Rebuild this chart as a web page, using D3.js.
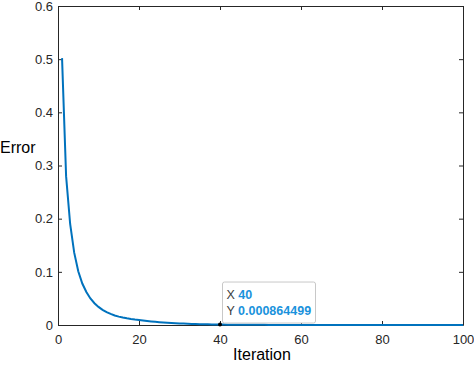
<!DOCTYPE html>
<html>
<head>
<meta charset="utf-8">
<script src="https://cdn.jsdelivr.net/npm/d3@7"></script>
<style>
  body { margin: 0; background: #fff; }
  text { font-family: "Liberation Sans", Arial, Helvetica, sans-serif; }
</style>
</head>
<body>
<svg id="chart"></svg>
<script>
// error per iteration (iterations 1..100)
const iterations = d3.range(1, 101);
const errors = [
  0.502, 0.28, 0.19, 0.136, 0.101, 0.078, 0.062, 0.050, 0.041, 0.034,
  0.0285, 0.0242, 0.0208, 0.0180, 0.0158, 0.0140, 0.0125, 0.0113, 0.0103, 0.0095,
  0.0085, 0.0076, 0.0068, 0.0060, 0.0053, 0.0047, 0.0042, 0.0037, 0.0033, 0.0029,
  0.0026, 0.0023, 0.0020, 0.0018, 0.0016, 0.0014, 0.00125, 0.0011, 0.00097, 0.000864499,
  0.00077, 0.00068, 0.00061, 0.00054, 0.00048, 0.00043, 0.00038, 0.00034, 0.0003, 0.00027,
  0.00024, 0.00021, 0.00019, 0.00017, 0.00015, 0.00013, 0.00012, 0.00011, 0.000095, 0.000085,
  0.000075, 0.000067, 0.00006, 0.000053, 0.000047, 0.000042, 0.000037, 0.000033, 0.000029, 0.000026,
  0.000023, 0.00002, 0.000018, 0.000016, 0.000014, 0.000013, 0.000011, 0.00001, 0.000009, 0.000008,
  0.000007, 0.0000063, 0.0000056, 0.000005, 0.0000044, 0.0000039, 0.0000035, 0.0000031, 0.0000027, 0.0000024,
  0.0000021, 0.0000019, 0.0000017, 0.0000015, 0.0000013, 0.0000012, 0.0000011, 0.000001, 0.0000009, 0.0000008
];

const xTicks = [0, 20, 40, 60, 80, 100];
const xTickLabels = ['0', '20', '40', '60', '80', '100'];
const yTicks = [0, 0.1, 0.2, 0.3, 0.4, 0.5, 0.6];
const yTickLabels = ['0', '0.1', '0.2', '0.3', '0.4', '0.5', '0.6'];

const tipIndex = 39;   // data tip on iteration 40
const tipXLabel = '40';
const tipYLabel = '0.000864499';

const geom = {
  width: 474,
  height: 366,
  margins: { left: 58, top: 6, right: 11, bottom: 41 }
};

const svg = d3.select('#chart')
  .attr('width', geom.width)
  .attr('height', geom.height);

const x = d3.scaleLinear()
  .domain([0, 100])
  .range([geom.margins.left, geom.width - geom.margins.right]);
const y = d3.scaleLinear()
  .domain([0, 0.6])
  .range([geom.height - geom.margins.bottom, geom.margins.top]);

const axisColor = '#262626';

function style(g) {
  g.select('.domain').attr('stroke', axisColor);
  g.selectAll('.tick line').attr('stroke', axisColor);
  g.selectAll('.tick text').attr('fill', axisColor).attr('font-size', 13);
}

// bottom
svg.append('g')
  .attr('transform', 'translate(0,' + y(0) + ')')
  .call(d3.axisBottom(x).tickValues(xTicks).tickFormat((d, i) => xTickLabels[i])
    .tickSizeInner(-4).tickSizeOuter(0).tickPadding(10))
  .call(style);

// top
svg.append('g')
  .attr('transform', 'translate(0,' + y(0.6) + ')')
  .call(d3.axisTop(x).tickValues(xTicks).tickFormat('')
    .tickSizeInner(-4).tickSizeOuter(0))
  .call(style);

// left
svg.append('g')
  .attr('transform', 'translate(' + x(0) + ',0)')
  .call(d3.axisLeft(y).tickValues(yTicks).tickFormat((d, i) => yTickLabels[i])
    .tickSizeInner(-4).tickSizeOuter(0).tickPadding(5))
  .call(style);

// right
svg.append('g')
  .attr('transform', 'translate(' + x(100) + ',0)')
  .call(d3.axisRight(y).tickValues(yTicks).tickFormat('')
    .tickSizeInner(-4).tickSizeOuter(0))
  .call(style);

svg.selectAll('.domain').attr('stroke-width', 1);

// axis labels
svg.append('text')
  .attr('x', 262)
  .attr('y', 360)
  .attr('text-anchor', 'middle')
  .attr('font-size', 16)
  .attr('fill', '#000')
  .text('Iteration');

svg.append('text')
  .attr('x', 0)
  .attr('y', 153)
  .attr('font-size', 16)
  .attr('fill', '#000')
  .text('Error');

// the curve
const line = d3.line()
  .x((d, i) => x(iterations[i]))
  .y(d => y(d));

svg.append('path')
  .datum(errors)
  .attr('fill', 'none')
  .attr('stroke', '#0072BD')
  .attr('stroke-width', 2)
  .attr('d', line);

// data tip
const px = x(iterations[tipIndex]);
const py = y(errors[tipIndex]);

svg.append('rect')
  .attr('x', px + 2.5)
  .attr('y', py - 42.5)
  .attr('width', 93)
  .attr('height', 41)
  .attr('rx', 2)
  .attr('fill', '#fff')
  .attr('stroke', '#c8c8c8')
  .attr('stroke-width', 1);

svg.append('circle')
  .attr('cx', px)
  .attr('cy', py)
  .attr('r', 2)
  .attr('fill', '#000');

const rows = [['X', tipXLabel], ['Y', tipYLabel]];
svg.selectAll('text.tip')
  .data(rows)
  .enter()
  .append('text')
  .attr('class', 'tip')
  .attr('x', px + 6.5)
  .attr('y', (d, i) => py - 26 + i * 16)
  .attr('font-size', 12.5)
  .each(function(d) {
    const t = d3.select(this);
    t.append('tspan').attr('fill', '#404040').text(d[0] + ' ');
    t.append('tspan').attr('fill', '#1a92dc').attr('font-weight', 'bold').text(d[1]);
  });
</script>
</body>
</html>
